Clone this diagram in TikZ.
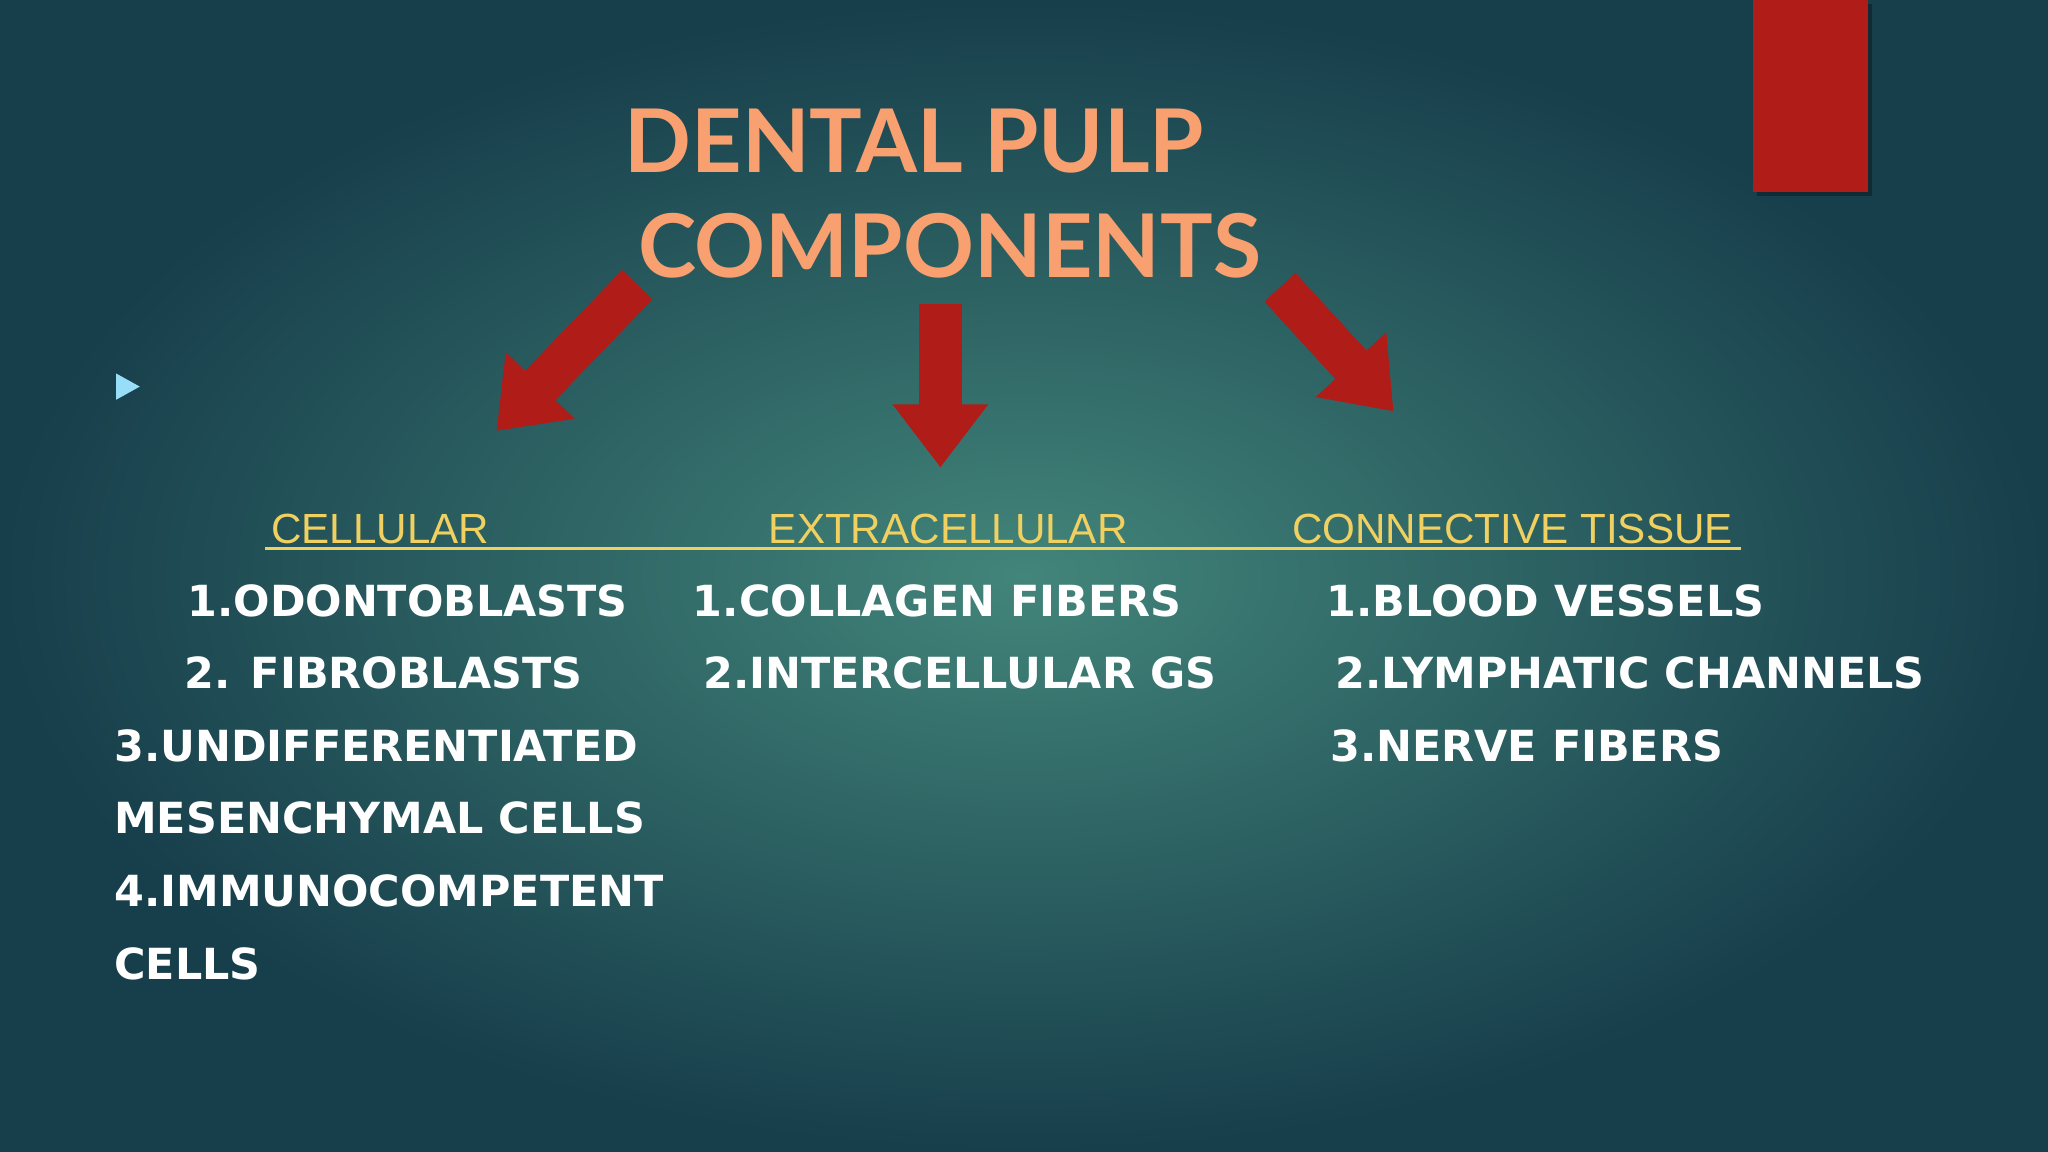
\documentclass[tikz,border=0pt]{standalone}
\usepackage{fontspec}
\setmainfont{DejaVu Sans}
\newfontfamily\titlefont{Lato}
\newfontfamily\headfont{Liberation Sans}
\usetikzlibrary{arrows.meta,shadings}
\definecolor{bgin}{HTML}{42857A}
\definecolor{bgout}{HTML}{173E4B}
\definecolor{redd}{HTML}{B01C18}
\definecolor{titleor}{HTML}{F8A070}
\definecolor{gold}{HTML}{F0D060}
\tikzset{
 item/.style={anchor=west,text=white,font=\fontsize{12.2}{14}\selectfont\bfseries,inner sep=0pt},
 head/.style={text=gold,font=\headfont\fontsize{12}{14}\selectfont,inner sep=0pt},
 ttl/.style={text=titleor,font=\titlefont\fontsize{25}{30}\selectfont\bfseries,inner sep=0pt},
 bigarrow/.style={line width=12pt,redd,-{Triangle[length=18pt,width=26pt]}}
}
\begin{document}
\begin{tikzpicture}[x=0.01306cm,y=-0.01306cm]
\useasboundingbox (0,0) rectangle (1568,882);
\shade[inner color=bgin,outer color=bgout] (0,0) rectangle (1568,882);
\fill[black,opacity=0.3] (1345,3) rectangle (1433,150);
\fill[redd] (1342,0) rectangle (1430,147);
\fill[cyan!40!white] (89,286) -- (107,296) -- (89,306) -- cycle;
\node[ttl] (t1) at (700,108) {DENTAL PULP};
\node[ttl] (t2) at (727,188) {COMPONENTS};
\coordinate (a1s) at (488,218); \coordinate (a1e) at (380,330);
\coordinate (a2s) at (720,233); \coordinate (a2e) at (720,358);
\coordinate (a3s) at (980,220); \coordinate (a3e) at (1067,315);
\draw[bigarrow] (a1s) -- (a1e);
\draw[bigarrow] (a2s) -- (a2e);
\draw[bigarrow] (a3s) -- (a3e);
\node[head] (h1) at (291,405) {CELLULAR};
\node[head] (h2) at (726,405) {EXTRACELLULAR};
\node[head] (h3) at (1158,405) {CONNECTIVE TISSUE};
\draw[gold,line width=0.8pt] (203,420) -- (1333,420);
\node[item] (c1) at (143,460) {1.ODONTOBLASTS};
\node[item] (c2) at (141,515) {2. FIBROBLASTS};
\node[item] (c3) at (87,571) {3.UNDIFFERENTIATED};
\node[item] (c3b) at (87,626) {MESENCHYMAL CELLS};
\node[item] (c4) at (87,682) {4.IMMUNOCOMPETENT};
\node[item] (c4b) at (87,738) {CELLS};
\node[item] (e1) at (530,460) {1.COLLAGEN FIBERS};
\node[item] (e2) at (538,515) {2.INTERCELLULAR GS};
\node[item] (n1) at (1015,460) {1.BLOOD VESSELS};
\node[item] (n2) at (1022,515) {2.LYMPHATIC CHANNELS};
\node[item] (n3) at (1018,571) {3.NERVE FIBERS};
\end{tikzpicture}
\end{document}
